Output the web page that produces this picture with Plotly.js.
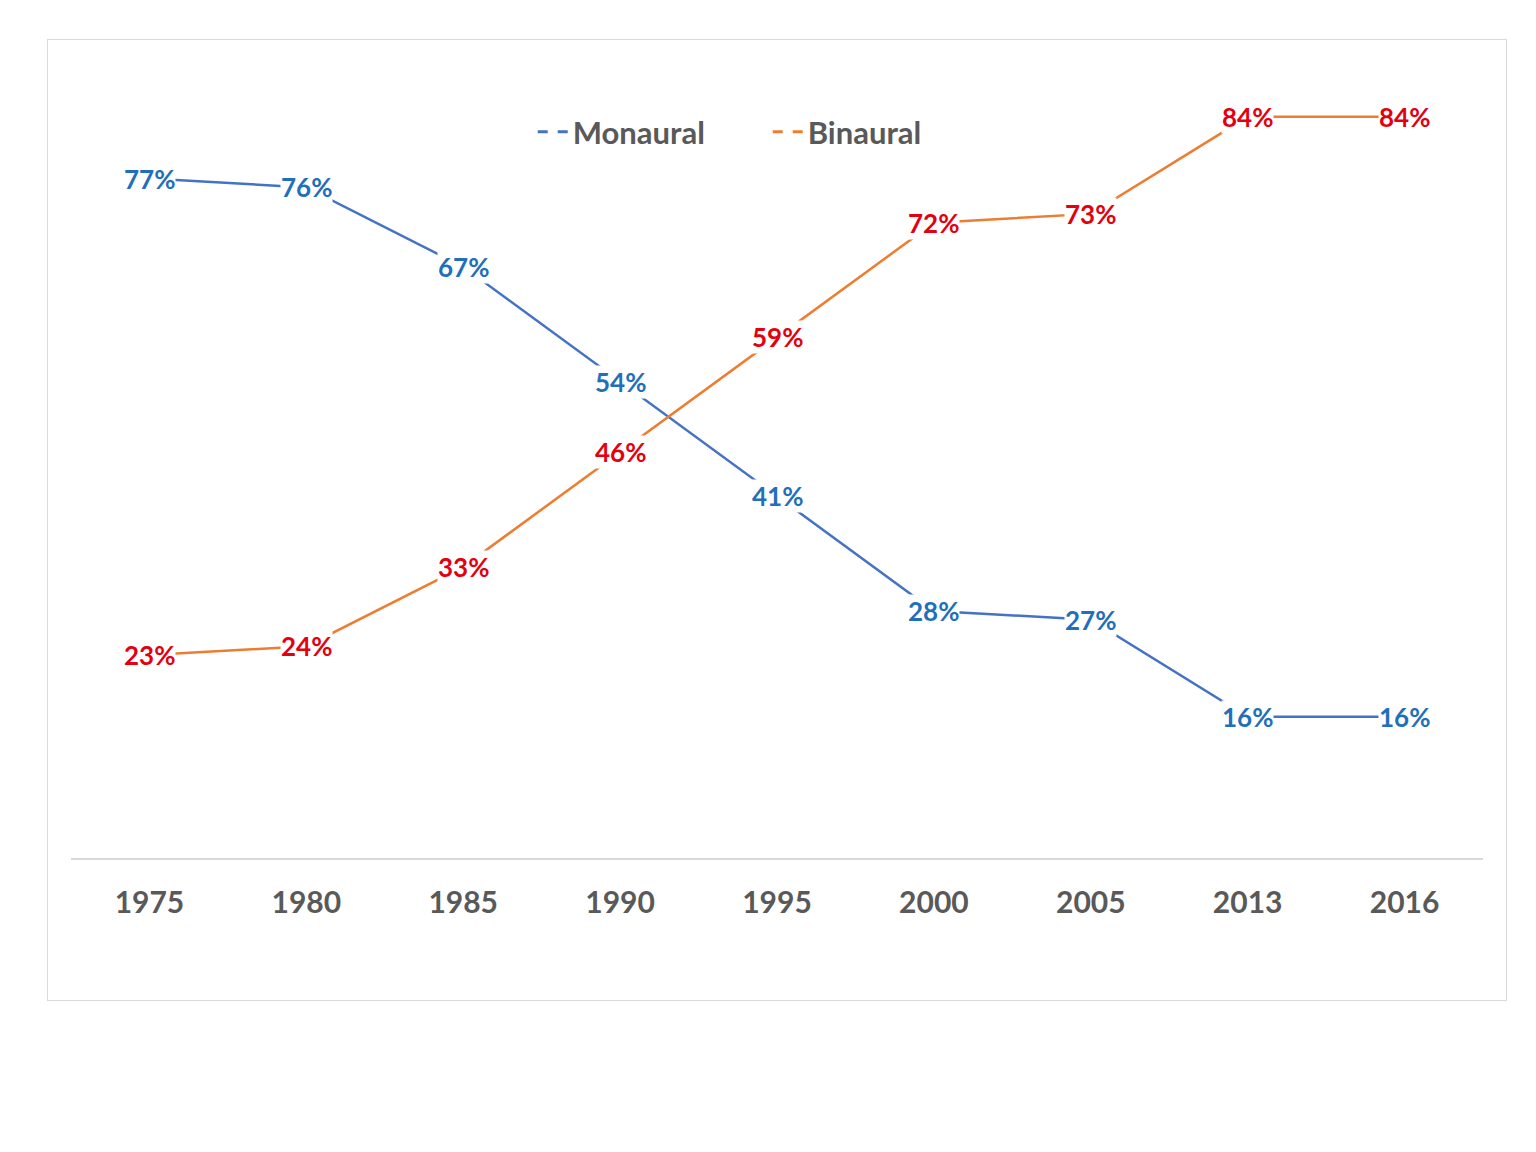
<!DOCTYPE html>
<html>
<head>
<meta charset="utf-8">
<script src="https://cdn.plot.ly/plotly-3.0.1.min.js"></script>
<style>
  body { margin: 0; background: #fff; }
  #chart {
    position: absolute;
    left: 47px; top: 39px;
    width: 1458px; height: 960px;
    border: 1.5px solid #D9D9D9;
  }
</style>
</head>
<body>
<div id="chart"></div>
<script>
const years = ['1975', '1980', '1985', '1990', '1995', '2000', '2005', '2013', '2016'];
const monaural = [77, 76, 67, 54, 41, 28, 27, 16, 16];
const binaural = [23, 24, 33, 46, 59, 72, 73, 84, 84];

const FONT = 'Lato, "Open Sans", sans-serif';

makeLine = (name, values, color) => ({
  x: years,
  y: values,
  name: name,
  type: 'scatter',
  mode: 'lines',
  line: { color: color, width: 2.5 },
  showlegend: false,
  hoverinfo: 'skip'
});

// legend-only entries so the key shows the short dashes
makeKey = (name, color) => ({
  x: [null],
  y: [null],
  name: name,
  type: 'scatter',
  mode: 'lines',
  line: { color: color, width: 3, dash: '10px,10px' }
});

// category axis: annotation x is the category index (years look numeric)
makeLabels = (values, color) => values.map((v, i) => ({
  x: i,
  y: v,
  text: `${v}%`,
  showarrow: false,
  bgcolor: 'white',
  borderpad: 0,
  font: { family: FONT, size: 26, color: color, weight: 'bold' }
}));

const traces = [
  makeLine('Monaural', monaural, '#4472C4'),
  makeLine('Binaural', binaural, '#ED7D31'),
  makeKey('Monaural', '#4472C4'),
  makeKey('Binaural', '#ED7D31')
];

const layout = {
  width: 1458,
  height: 960,
  margin: { l: 22.5, r: 22.5, t: 23, b: 142 },
  paper_bgcolor: 'white',
  plot_bgcolor: 'white',
  showlegend: true,
  legend: {
    orientation: 'h',
    x: 0.327,
    xanchor: 'left',
    y: 0.913,
    yanchor: 'middle',
    entrywidth: 190,
    entrywidthmode: 'pixels',
    font: { family: FONT, size: 31, color: '#595959', weight: 'bold' }
  },
  xaxis: {
    type: 'category',
    range: [-0.5, 8.5],
    showgrid: false,
    zeroline: false,
    showline: true,
    linecolor: '#D9D9D9',
    linewidth: 1.5,
    ticks: '',
    ticklabelstandoff: 17,
    tickfont: { family: FONT, size: 30, color: '#595959', weight: 'bold' },
    fixedrange: true
  },
  yaxis: {
    range: [0, 90.1],
    visible: false,
    showgrid: false,
    zeroline: false,
    fixedrange: true
  },
  annotations: [
    ...makeLabels(monaural, '#1F6FBA'),
    ...makeLabels(binaural, '#E3000F')
  ]
};

Plotly.newPlot('chart', traces, layout, { displayModeBar: false, staticPlot: true });
</script>
</body>
</html>
